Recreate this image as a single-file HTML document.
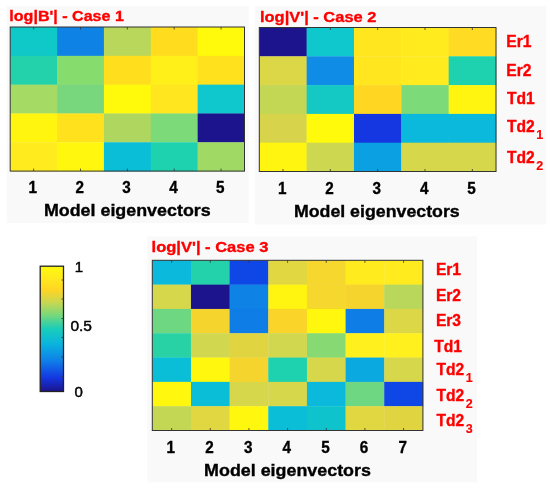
<!DOCTYPE html>
<html><head><meta charset="utf-8"><title>Figure</title>
<style>
html,body{margin:0;padding:0;background:#fff;}
body{width:550px;height:488px;overflow:hidden;}
svg{display:block;font-family:"Liberation Sans",Arial,Helvetica,sans-serif;}
</style></head><body>
<svg width="550" height="488" viewBox="0 0 550 488">
<rect width="550" height="488" fill="#fff"/>
<rect x="6.6" y="6.1" width="242.10" height="216.90" fill="#f9f9f9"/>
<rect x="255.1" y="6.1" width="291.30" height="218.60" fill="#f9f9f9"/>
<rect x="147.4" y="236.4" width="329.50" height="246.00" fill="#f9f9f9"/>
<rect x="10.20" y="27.00" width="47.16" height="29.12" fill="rgb(15,200,200)"/>
<rect x="57.06" y="27.00" width="47.16" height="29.12" fill="rgb(15,130,230)"/>
<rect x="103.92" y="27.00" width="47.16" height="29.12" fill="rgb(185,215,90)"/>
<rect x="150.78" y="27.00" width="47.16" height="29.12" fill="rgb(255,220,30)"/>
<rect x="197.64" y="27.00" width="47.16" height="29.12" fill="rgb(255,250,12)"/>
<rect x="10.20" y="55.82" width="47.16" height="29.12" fill="rgb(35,210,170)"/>
<rect x="57.06" y="55.82" width="47.16" height="29.12" fill="rgb(135,220,110)"/>
<rect x="103.92" y="55.82" width="47.16" height="29.12" fill="rgb(255,222,30)"/>
<rect x="150.78" y="55.82" width="47.16" height="29.12" fill="rgb(255,240,25)"/>
<rect x="197.64" y="55.82" width="47.16" height="29.12" fill="rgb(255,225,30)"/>
<rect x="10.20" y="84.64" width="47.16" height="29.12" fill="rgb(165,218,100)"/>
<rect x="57.06" y="84.64" width="47.16" height="29.12" fill="rgb(120,215,125)"/>
<rect x="103.92" y="84.64" width="47.16" height="29.12" fill="rgb(255,250,12)"/>
<rect x="150.78" y="84.64" width="47.16" height="29.12" fill="rgb(255,230,30)"/>
<rect x="197.64" y="84.64" width="47.16" height="29.12" fill="rgb(15,200,205)"/>
<rect x="10.20" y="113.46" width="47.16" height="29.12" fill="rgb(255,245,14)"/>
<rect x="57.06" y="113.46" width="47.16" height="29.12" fill="rgb(255,225,30)"/>
<rect x="103.92" y="113.46" width="47.16" height="29.12" fill="rgb(175,215,95)"/>
<rect x="150.78" y="113.46" width="47.16" height="29.12" fill="rgb(125,218,120)"/>
<rect x="197.64" y="113.46" width="47.16" height="29.12" fill="rgb(28,20,140)"/>
<rect x="10.20" y="142.28" width="47.16" height="29.12" fill="rgb(255,235,30)"/>
<rect x="57.06" y="142.28" width="47.16" height="29.12" fill="rgb(255,248,14)"/>
<rect x="103.92" y="142.28" width="47.16" height="29.12" fill="rgb(10,190,215)"/>
<rect x="150.78" y="142.28" width="47.16" height="29.12" fill="rgb(30,210,175)"/>
<rect x="197.64" y="142.28" width="47.16" height="29.12" fill="rgb(160,218,100)"/>
<line x1="33.63" y1="171.10" x2="33.63" y2="168.60" stroke="#333" stroke-width="0.8"/>
<line x1="33.63" y1="27.00" x2="33.63" y2="29.50" stroke="#333" stroke-width="0.8"/>
<line x1="80.49" y1="171.10" x2="80.49" y2="168.60" stroke="#333" stroke-width="0.8"/>
<line x1="80.49" y1="27.00" x2="80.49" y2="29.50" stroke="#333" stroke-width="0.8"/>
<line x1="127.35" y1="171.10" x2="127.35" y2="168.60" stroke="#333" stroke-width="0.8"/>
<line x1="127.35" y1="27.00" x2="127.35" y2="29.50" stroke="#333" stroke-width="0.8"/>
<line x1="174.21" y1="171.10" x2="174.21" y2="168.60" stroke="#333" stroke-width="0.8"/>
<line x1="174.21" y1="27.00" x2="174.21" y2="29.50" stroke="#333" stroke-width="0.8"/>
<line x1="221.07" y1="171.10" x2="221.07" y2="168.60" stroke="#333" stroke-width="0.8"/>
<line x1="221.07" y1="27.00" x2="221.07" y2="29.50" stroke="#333" stroke-width="0.8"/>
<rect x="10.20" y="27.00" width="234.30" height="144.10" fill="none" stroke="#333" stroke-width="1"/>
<rect x="259.30" y="27.50" width="47.64" height="29.10" fill="rgb(28,20,140)"/>
<rect x="306.64" y="27.50" width="47.64" height="29.10" fill="rgb(15,200,205)"/>
<rect x="353.98" y="27.50" width="47.64" height="29.10" fill="rgb(255,230,30)"/>
<rect x="401.32" y="27.50" width="47.64" height="29.10" fill="rgb(255,235,30)"/>
<rect x="448.66" y="27.50" width="47.64" height="29.10" fill="rgb(255,220,35)"/>
<rect x="259.30" y="56.30" width="47.64" height="29.10" fill="rgb(220,215,70)"/>
<rect x="306.64" y="56.30" width="47.64" height="29.10" fill="rgb(15,140,230)"/>
<rect x="353.98" y="56.30" width="47.64" height="29.10" fill="rgb(255,230,30)"/>
<rect x="401.32" y="56.30" width="47.64" height="29.10" fill="rgb(255,235,30)"/>
<rect x="448.66" y="56.30" width="47.64" height="29.10" fill="rgb(30,210,175)"/>
<rect x="259.30" y="85.10" width="47.64" height="29.10" fill="rgb(195,215,85)"/>
<rect x="306.64" y="85.10" width="47.64" height="29.10" fill="rgb(20,200,195)"/>
<rect x="353.98" y="85.10" width="47.64" height="29.10" fill="rgb(255,215,35)"/>
<rect x="401.32" y="85.10" width="47.64" height="29.10" fill="rgb(125,218,120)"/>
<rect x="448.66" y="85.10" width="47.64" height="29.10" fill="rgb(255,245,16)"/>
<rect x="259.30" y="113.90" width="47.64" height="29.10" fill="rgb(215,212,75)"/>
<rect x="306.64" y="113.90" width="47.64" height="29.10" fill="rgb(255,250,12)"/>
<rect x="353.98" y="113.90" width="47.64" height="29.10" fill="rgb(20,55,225)"/>
<rect x="401.32" y="113.90" width="47.64" height="29.10" fill="rgb(10,185,220)"/>
<rect x="448.66" y="113.90" width="47.64" height="29.10" fill="rgb(10,185,220)"/>
<rect x="259.30" y="142.70" width="47.64" height="29.10" fill="rgb(255,245,16)"/>
<rect x="306.64" y="142.70" width="47.64" height="29.10" fill="rgb(205,215,80)"/>
<rect x="353.98" y="142.70" width="47.64" height="29.10" fill="rgb(10,160,225)"/>
<rect x="401.32" y="142.70" width="47.64" height="29.10" fill="rgb(215,215,75)"/>
<rect x="448.66" y="142.70" width="47.64" height="29.10" fill="rgb(215,215,75)"/>
<line x1="282.97" y1="171.50" x2="282.97" y2="169.00" stroke="#333" stroke-width="0.8"/>
<line x1="282.97" y1="27.50" x2="282.97" y2="30.00" stroke="#333" stroke-width="0.8"/>
<line x1="330.31" y1="171.50" x2="330.31" y2="169.00" stroke="#333" stroke-width="0.8"/>
<line x1="330.31" y1="27.50" x2="330.31" y2="30.00" stroke="#333" stroke-width="0.8"/>
<line x1="377.65" y1="171.50" x2="377.65" y2="169.00" stroke="#333" stroke-width="0.8"/>
<line x1="377.65" y1="27.50" x2="377.65" y2="30.00" stroke="#333" stroke-width="0.8"/>
<line x1="424.99" y1="171.50" x2="424.99" y2="169.00" stroke="#333" stroke-width="0.8"/>
<line x1="424.99" y1="27.50" x2="424.99" y2="30.00" stroke="#333" stroke-width="0.8"/>
<line x1="472.33" y1="171.50" x2="472.33" y2="169.00" stroke="#333" stroke-width="0.8"/>
<line x1="472.33" y1="27.50" x2="472.33" y2="30.00" stroke="#333" stroke-width="0.8"/>
<rect x="259.30" y="27.50" width="236.70" height="144.00" fill="none" stroke="#333" stroke-width="1"/>
<rect x="152.30" y="260.30" width="38.96" height="24.61" fill="rgb(10,185,220)"/>
<rect x="190.96" y="260.30" width="38.96" height="24.61" fill="rgb(35,210,170)"/>
<rect x="229.61" y="260.30" width="38.96" height="24.61" fill="rgb(15,70,230)"/>
<rect x="268.27" y="260.30" width="38.96" height="24.61" fill="rgb(225,215,65)"/>
<rect x="306.93" y="260.30" width="38.96" height="24.61" fill="rgb(245,215,45)"/>
<rect x="345.59" y="260.30" width="38.96" height="24.61" fill="rgb(255,235,30)"/>
<rect x="384.24" y="260.30" width="38.96" height="24.61" fill="rgb(255,235,30)"/>
<rect x="152.30" y="284.61" width="38.96" height="24.61" fill="rgb(215,215,75)"/>
<rect x="190.96" y="284.61" width="38.96" height="24.61" fill="rgb(28,20,140)"/>
<rect x="229.61" y="284.61" width="38.96" height="24.61" fill="rgb(15,130,230)"/>
<rect x="268.27" y="284.61" width="38.96" height="24.61" fill="rgb(255,245,16)"/>
<rect x="306.93" y="284.61" width="38.96" height="24.61" fill="rgb(245,215,45)"/>
<rect x="345.59" y="284.61" width="38.96" height="24.61" fill="rgb(245,212,45)"/>
<rect x="384.24" y="284.61" width="38.96" height="24.61" fill="rgb(185,215,90)"/>
<rect x="152.30" y="308.93" width="38.96" height="24.61" fill="rgb(110,215,130)"/>
<rect x="190.96" y="308.93" width="38.96" height="24.61" fill="rgb(245,212,45)"/>
<rect x="229.61" y="308.93" width="38.96" height="24.61" fill="rgb(15,125,230)"/>
<rect x="268.27" y="308.93" width="38.96" height="24.61" fill="rgb(250,212,40)"/>
<rect x="306.93" y="308.93" width="38.96" height="24.61" fill="rgb(255,248,14)"/>
<rect x="345.59" y="308.93" width="38.96" height="24.61" fill="rgb(15,125,230)"/>
<rect x="384.24" y="308.93" width="38.96" height="24.61" fill="rgb(220,215,70)"/>
<rect x="152.30" y="333.24" width="38.96" height="24.61" fill="rgb(40,210,165)"/>
<rect x="190.96" y="333.24" width="38.96" height="24.61" fill="rgb(210,215,80)"/>
<rect x="229.61" y="333.24" width="38.96" height="24.61" fill="rgb(225,212,65)"/>
<rect x="268.27" y="333.24" width="38.96" height="24.61" fill="rgb(210,215,80)"/>
<rect x="306.93" y="333.24" width="38.96" height="24.61" fill="rgb(135,218,115)"/>
<rect x="345.59" y="333.24" width="38.96" height="24.61" fill="rgb(255,240,30)"/>
<rect x="384.24" y="333.24" width="38.96" height="24.61" fill="rgb(255,240,30)"/>
<rect x="152.30" y="357.56" width="38.96" height="24.61" fill="rgb(10,190,215)"/>
<rect x="190.96" y="357.56" width="38.96" height="24.61" fill="rgb(255,248,14)"/>
<rect x="229.61" y="357.56" width="38.96" height="24.61" fill="rgb(245,212,45)"/>
<rect x="268.27" y="357.56" width="38.96" height="24.61" fill="rgb(30,210,175)"/>
<rect x="306.93" y="357.56" width="38.96" height="24.61" fill="rgb(215,215,75)"/>
<rect x="345.59" y="357.56" width="38.96" height="24.61" fill="rgb(10,170,225)"/>
<rect x="384.24" y="357.56" width="38.96" height="24.61" fill="rgb(215,215,75)"/>
<rect x="152.30" y="381.87" width="38.96" height="24.61" fill="rgb(255,248,14)"/>
<rect x="190.96" y="381.87" width="38.96" height="24.61" fill="rgb(10,190,215)"/>
<rect x="229.61" y="381.87" width="38.96" height="24.61" fill="rgb(215,215,75)"/>
<rect x="268.27" y="381.87" width="38.96" height="24.61" fill="rgb(215,215,75)"/>
<rect x="306.93" y="381.87" width="38.96" height="24.61" fill="rgb(10,185,220)"/>
<rect x="345.59" y="381.87" width="38.96" height="24.61" fill="rgb(110,215,130)"/>
<rect x="384.24" y="381.87" width="38.96" height="24.61" fill="rgb(15,70,230)"/>
<rect x="152.30" y="406.19" width="38.96" height="24.61" fill="rgb(195,215,85)"/>
<rect x="190.96" y="406.19" width="38.96" height="24.61" fill="rgb(225,215,65)"/>
<rect x="229.61" y="406.19" width="38.96" height="24.61" fill="rgb(255,248,14)"/>
<rect x="268.27" y="406.19" width="38.96" height="24.61" fill="rgb(10,190,215)"/>
<rect x="306.93" y="406.19" width="38.96" height="24.61" fill="rgb(15,195,205)"/>
<rect x="345.59" y="406.19" width="38.96" height="24.61" fill="rgb(225,215,65)"/>
<rect x="384.24" y="406.19" width="38.96" height="24.61" fill="rgb(225,212,65)"/>
<line x1="171.63" y1="430.50" x2="171.63" y2="428.00" stroke="#333" stroke-width="0.8"/>
<line x1="171.63" y1="260.30" x2="171.63" y2="262.80" stroke="#333" stroke-width="0.8"/>
<line x1="210.29" y1="430.50" x2="210.29" y2="428.00" stroke="#333" stroke-width="0.8"/>
<line x1="210.29" y1="260.30" x2="210.29" y2="262.80" stroke="#333" stroke-width="0.8"/>
<line x1="248.94" y1="430.50" x2="248.94" y2="428.00" stroke="#333" stroke-width="0.8"/>
<line x1="248.94" y1="260.30" x2="248.94" y2="262.80" stroke="#333" stroke-width="0.8"/>
<line x1="287.60" y1="430.50" x2="287.60" y2="428.00" stroke="#333" stroke-width="0.8"/>
<line x1="287.60" y1="260.30" x2="287.60" y2="262.80" stroke="#333" stroke-width="0.8"/>
<line x1="326.26" y1="430.50" x2="326.26" y2="428.00" stroke="#333" stroke-width="0.8"/>
<line x1="326.26" y1="260.30" x2="326.26" y2="262.80" stroke="#333" stroke-width="0.8"/>
<line x1="364.91" y1="430.50" x2="364.91" y2="428.00" stroke="#333" stroke-width="0.8"/>
<line x1="364.91" y1="260.30" x2="364.91" y2="262.80" stroke="#333" stroke-width="0.8"/>
<line x1="403.57" y1="430.50" x2="403.57" y2="428.00" stroke="#333" stroke-width="0.8"/>
<line x1="403.57" y1="260.30" x2="403.57" y2="262.80" stroke="#333" stroke-width="0.8"/>
<rect x="152.30" y="260.30" width="270.60" height="170.20" fill="none" stroke="#333" stroke-width="1"/>
<text x="9.30" y="20.70" font-size="15.4" fill="#f00" text-anchor="start" font-weight="bold" textLength="114.60" lengthAdjust="spacingAndGlyphs" stroke="#f00" stroke-width="0.35">log|B'| - Case 1</text>
<text x="260.00" y="22.00" font-size="15.4" fill="#f00" text-anchor="start" font-weight="bold" textLength="116.40" lengthAdjust="spacingAndGlyphs" stroke="#f00" stroke-width="0.35">log|V'| - Case 2</text>
<text x="151.60" y="252.00" font-size="15.4" fill="#f00" text-anchor="start" font-weight="bold" textLength="116.80" lengthAdjust="spacingAndGlyphs" stroke="#f00" stroke-width="0.35">log|V'| - Case 3</text>
<text x="32.83" y="193.30" font-size="16.5" fill="#000" text-anchor="middle" font-weight="bold" textLength="8.50" lengthAdjust="spacingAndGlyphs" stroke="#000" stroke-width="0.35">1</text>
<text x="79.69" y="193.30" font-size="16.5" fill="#000" text-anchor="middle" font-weight="bold" textLength="8.50" lengthAdjust="spacingAndGlyphs" stroke="#000" stroke-width="0.35">2</text>
<text x="126.55" y="193.30" font-size="16.5" fill="#000" text-anchor="middle" font-weight="bold" textLength="8.50" lengthAdjust="spacingAndGlyphs" stroke="#000" stroke-width="0.35">3</text>
<text x="173.41" y="193.30" font-size="16.5" fill="#000" text-anchor="middle" font-weight="bold" textLength="8.50" lengthAdjust="spacingAndGlyphs" stroke="#000" stroke-width="0.35">4</text>
<text x="220.27" y="193.30" font-size="16.5" fill="#000" text-anchor="middle" font-weight="bold" textLength="8.50" lengthAdjust="spacingAndGlyphs" stroke="#000" stroke-width="0.35">5</text>
<text x="282.17" y="194.20" font-size="16.5" fill="#000" text-anchor="middle" font-weight="bold" textLength="8.50" lengthAdjust="spacingAndGlyphs" stroke="#000" stroke-width="0.35">1</text>
<text x="329.51" y="194.20" font-size="16.5" fill="#000" text-anchor="middle" font-weight="bold" textLength="8.50" lengthAdjust="spacingAndGlyphs" stroke="#000" stroke-width="0.35">2</text>
<text x="376.85" y="194.20" font-size="16.5" fill="#000" text-anchor="middle" font-weight="bold" textLength="8.50" lengthAdjust="spacingAndGlyphs" stroke="#000" stroke-width="0.35">3</text>
<text x="424.19" y="194.20" font-size="16.5" fill="#000" text-anchor="middle" font-weight="bold" textLength="8.50" lengthAdjust="spacingAndGlyphs" stroke="#000" stroke-width="0.35">4</text>
<text x="471.53" y="194.20" font-size="16.5" fill="#000" text-anchor="middle" font-weight="bold" textLength="8.50" lengthAdjust="spacingAndGlyphs" stroke="#000" stroke-width="0.35">5</text>
<text x="170.83" y="453.20" font-size="16.5" fill="#000" text-anchor="middle" font-weight="bold" textLength="8.50" lengthAdjust="spacingAndGlyphs" stroke="#000" stroke-width="0.35">1</text>
<text x="209.49" y="453.20" font-size="16.5" fill="#000" text-anchor="middle" font-weight="bold" textLength="8.50" lengthAdjust="spacingAndGlyphs" stroke="#000" stroke-width="0.35">2</text>
<text x="248.14" y="453.20" font-size="16.5" fill="#000" text-anchor="middle" font-weight="bold" textLength="8.50" lengthAdjust="spacingAndGlyphs" stroke="#000" stroke-width="0.35">3</text>
<text x="286.80" y="453.20" font-size="16.5" fill="#000" text-anchor="middle" font-weight="bold" textLength="8.50" lengthAdjust="spacingAndGlyphs" stroke="#000" stroke-width="0.35">4</text>
<text x="325.46" y="453.20" font-size="16.5" fill="#000" text-anchor="middle" font-weight="bold" textLength="8.50" lengthAdjust="spacingAndGlyphs" stroke="#000" stroke-width="0.35">5</text>
<text x="364.11" y="453.20" font-size="16.5" fill="#000" text-anchor="middle" font-weight="bold" textLength="8.50" lengthAdjust="spacingAndGlyphs" stroke="#000" stroke-width="0.35">6</text>
<text x="402.77" y="453.20" font-size="16.5" fill="#000" text-anchor="middle" font-weight="bold" textLength="8.50" lengthAdjust="spacingAndGlyphs" stroke="#000" stroke-width="0.35">7</text>
<text x="127.30" y="216.40" font-size="16.9" fill="#000" text-anchor="middle" font-weight="bold" textLength="166.80" lengthAdjust="spacingAndGlyphs" stroke="#000" stroke-width="0.35">Model eigenvectors</text>
<text x="376.80" y="216.80" font-size="16.9" fill="#000" text-anchor="middle" font-weight="bold" textLength="165.80" lengthAdjust="spacingAndGlyphs" stroke="#000" stroke-width="0.35">Model eigenvectors</text>
<text x="287.50" y="475.80" font-size="16.9" fill="#000" text-anchor="middle" font-weight="bold" textLength="166.80" lengthAdjust="spacingAndGlyphs" stroke="#000" stroke-width="0.35">Model eigenvectors</text>
<text x="506.30" y="46.50" font-size="15.6" fill="#f00" text-anchor="start" font-weight="bold" stroke="#f00" stroke-width="0.35">Er1</text>
<text x="506.30" y="76.10" font-size="15.6" fill="#f00" text-anchor="start" font-weight="bold" stroke="#f00" stroke-width="0.35">Er2</text>
<text x="507.00" y="104.40" font-size="15.6" fill="#f00" text-anchor="start" font-weight="bold" stroke="#f00" stroke-width="0.35">Td1</text>
<text x="507.00" y="132.00" font-size="15.6" fill="#f00" font-weight="bold" stroke="#f00" stroke-width="0.35">Td2<tspan font-size="12.5" dx="1.6" dy="7.3" stroke-width="0.15">1</tspan></text>
<text x="507.00" y="162.50" font-size="15.6" fill="#f00" font-weight="bold" stroke="#f00" stroke-width="0.35">Td2<tspan font-size="12.5" dx="1.6" dy="7.3" stroke-width="0.15">2</tspan></text>
<text x="435.90" y="275.00" font-size="15.6" fill="#f00" text-anchor="start" font-weight="bold" stroke="#f00" stroke-width="0.35">Er1</text>
<text x="435.90" y="300.60" font-size="15.6" fill="#f00" text-anchor="start" font-weight="bold" stroke="#f00" stroke-width="0.35">Er2</text>
<text x="435.90" y="325.90" font-size="15.6" fill="#f00" text-anchor="start" font-weight="bold" stroke="#f00" stroke-width="0.35">Er3</text>
<text x="434.30" y="351.60" font-size="15.6" fill="#f00" text-anchor="start" font-weight="bold" stroke="#f00" stroke-width="0.35">Td1</text>
<text x="436.50" y="374.80" font-size="15.6" fill="#f00" font-weight="bold" stroke="#f00" stroke-width="0.35">Td2<tspan font-size="12.5" dx="1.6" dy="7.3" stroke-width="0.15">1</tspan></text>
<text x="436.50" y="400.70" font-size="15.6" fill="#f00" font-weight="bold" stroke="#f00" stroke-width="0.35">Td2<tspan font-size="12.5" dx="1.6" dy="7.3" stroke-width="0.15">2</tspan></text>
<text x="436.50" y="426.10" font-size="15.6" fill="#f00" font-weight="bold" stroke="#f00" stroke-width="0.35">Td2<tspan font-size="12.5" dx="1.6" dy="7.3" stroke-width="0.15">3</tspan></text>
<defs><linearGradient id="cb" x1="0" y1="1" x2="0" y2="0">
<stop offset="0" stop-color="rgb(28,20,140)"/>
<stop offset="0.11" stop-color="rgb(20,55,225)"/>
<stop offset="0.24" stop-color="rgb(15,125,232)"/>
<stop offset="0.38" stop-color="rgb(10,180,222)"/>
<stop offset="0.50" stop-color="rgb(25,205,185)"/>
<stop offset="0.61" stop-color="rgb(120,216,122)"/>
<stop offset="0.71" stop-color="rgb(200,215,82)"/>
<stop offset="0.81" stop-color="rgb(255,213,35)"/>
<stop offset="0.9" stop-color="rgb(255,232,30)"/>
<stop offset="1" stop-color="rgb(255,250,12)"/>
</linearGradient></defs>
<rect x="40.2" y="266.2" width="23.30" height="125.30" fill="url(#cb)" stroke="#222" stroke-width="1.3"/>
<line x1="63.5" y1="280" x2="61.5" y2="280" stroke="#333" stroke-width="0.8"/>
<line x1="63.5" y1="299" x2="61.5" y2="299" stroke="#333" stroke-width="0.8"/>
<line x1="63.5" y1="318.5" x2="61.5" y2="318.5" stroke="#333" stroke-width="0.8"/>
<line x1="63.5" y1="337.5" x2="61.5" y2="337.5" stroke="#333" stroke-width="0.8"/>
<line x1="63.5" y1="357" x2="61.5" y2="357" stroke="#333" stroke-width="0.8"/>
<line x1="63.5" y1="376.5" x2="61.5" y2="376.5" stroke="#333" stroke-width="0.8"/>
<text stroke="#000" stroke-width="0.45" x="74.70" y="272.00" font-size="15" fill="#000" text-anchor="start" font-weight="normal">1</text>
<text stroke="#000" stroke-width="0.45" x="70.40" y="331.20" font-size="15" fill="#000" text-anchor="start" font-weight="normal" textLength="21.60" lengthAdjust="spacingAndGlyphs">0.5</text>
<text stroke="#000" stroke-width="0.45" x="74.60" y="397.40" font-size="15" fill="#000" text-anchor="start" font-weight="normal">0</text>
</svg>
</body></html>
